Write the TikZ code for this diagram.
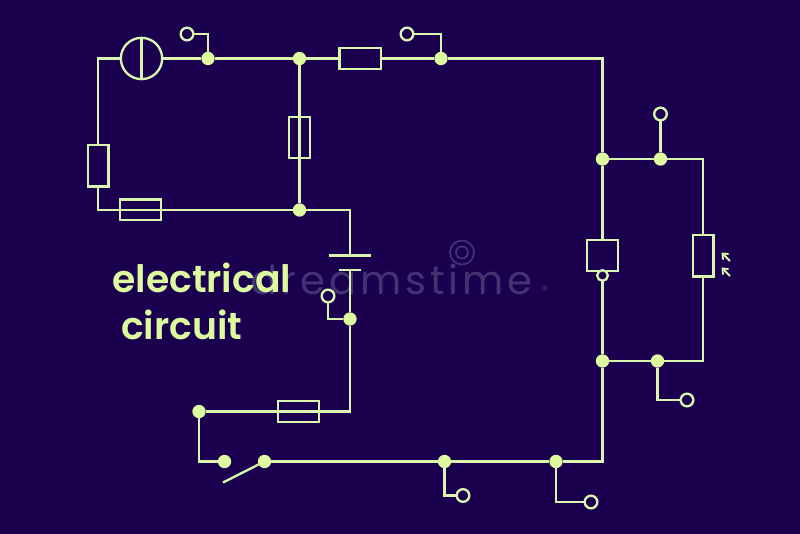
\documentclass[tikz,border=0pt]{standalone}
\usepackage{fontspec}
\setmainfont{Poppins}
\newfontfamily\titlefont{Poppins SemiBold}
\newfontfamily\markfont{Poppins}
\usetikzlibrary{arrows.meta}
\definecolor{bgc}{HTML}{1A004F}
\definecolor{wirec}{HTML}{DCF5AE}
\definecolor{dotc}{HTML}{DDFA9E}
\definecolor{markc}{HTML}{443372}
\tikzset{
  wire/.style={draw=wirec,line width=1.75pt,line join=miter},
  junction/.style={circle,fill=dotc,minimum size=10pt,inner sep=0pt,outer sep=0pt},
  terminal/.style={circle,draw=wirec,line width=1.75pt,fill=bgc,minimum size=9.5pt,inner sep=0pt,outer sep=0pt},
  resh/.style={rectangle,draw=wirec,line width=1.75pt,fill=bgc,minimum width=31pt,minimum height=15.5pt,inner sep=0pt,outer sep=0pt},
  resv/.style={rectangle,draw=wirec,line width=1.75pt,fill=bgc,minimum width=15.5pt,minimum height=31pt,inner sep=0pt,outer sep=0pt},
  fuseh/.style={rectangle,draw=wirec,line width=1.75pt,minimum width=31pt,minimum height=15.5pt,inner sep=0pt,outer sep=0pt},
  fusev/.style={rectangle,draw=wirec,line width=1.75pt,minimum width=15.5pt,minimum height=31pt,inner sep=0pt,outer sep=0pt},
  title/.style={text=dotc,font=\titlefont\fontsize{28.3pt}{30pt}\selectfont,inner sep=0pt,anchor=base west},
  photo/.style={wire,-{Straight Barb[length=3.5pt,width=6pt]},line width=1.4pt},
  markring/.style={circle,draw=markc,line width=1.3pt,inner sep=0pt}
}
\begin{document}
\begin{tikzpicture}[x=0.75pt,y=-0.75pt]
\useasboundingbox (0,0) rectangle (800,534);
\fill[bgc] (0,0) rectangle (800,534);
% watermark
\node[text=markc,font=\markfont\fontsize{30pt}{32pt}\selectfont\addfontfeature{LetterSpace=10},inner sep=0pt,anchor=base west] (mark) at (250,295) {dreamstime};
\node[markring,minimum size=18pt] (markdot) at (462,252.5) {};
\node[markring,minimum size=9pt] (markdotb) at (462,252.5) {};
\node[text=markc,font=\markfont\fontsize{9pt}{10pt}\selectfont,inner sep=0pt] (markreg) at (545,290) {®};
% corners
\coordinate (c1) at (98,58.5);
\coordinate (c2) at (98,210);
\coordinate (c3) at (208,34);
\coordinate (c4) at (441,34);
\coordinate (c5) at (602.5,58.5);
\coordinate (c6) at (703,159);
\coordinate (c7) at (703,361);
\coordinate (c8) at (350,210);
\coordinate (c10) at (350,411.5);
\coordinate (c11) at (199,461.5);
\coordinate (c12) at (602.5,461.5);
\coordinate (c13) at (657.5,400);
\coordinate (c14) at (444.5,495.5);
\coordinate (c15) at (556,502);
\coordinate (blade) at (223,482.5);
% components
\node[circle,draw=wirec,line width=1.75pt,minimum size=31pt,inner sep=0pt,outer sep=0pt] (src) at (141.5,58.5) {};
\node[resv] (r1) at (98,166) {};
\node[fuseh] (f1) at (140.5,210) {};
\node[fusev] (f2) at (299.5,137.5) {};
\node[resh] (r2) at (360,58.5) {};
\node[fuseh] (f3) at (298.5,411.5) {};
\node[resv] (r3) at (703,256) {};
\node[rectangle,draw=wirec,line width=1.75pt,fill=bgc,minimum width=23.5pt,minimum height=23.5pt,inner sep=0pt,outer sep=0pt] (sq) at (602.5,255.5) {};
\node[terminal,minimum size=8pt] (sqt) at (602.5,275.5) {};
\node[junction] (j1) at (208,58.5) {};
\node[junction] (j2) at (299.5,58.5) {};
\node[junction] (j3) at (441,58.5) {};
\node[junction] (j4) at (602.5,159) {};
\node[junction] (j5) at (660.5,159) {};
\node[junction] (j6) at (299.5,210) {};
\node[junction] (j7) at (350,319) {};
\node[junction] (j8) at (602.5,361) {};
\node[junction] (j9) at (657.5,361) {};
\node[junction] (j10) at (199,411.5) {};
\node[junction] (j11) at (224.5,461.5) {};
\node[junction] (j12) at (264.5,461.5) {};
\node[junction] (j13) at (444.5,461.5) {};
\node[junction] (j14) at (556,461.5) {};
\node[terminal] (t1) at (187,34) {};
\node[terminal] (t2) at (407,34) {};
\node[terminal] (t3) at (660.5,114) {};
\node[terminal] (t4) at (328,296) {};
\node[terminal] (t5) at (687,400) {};
\node[terminal] (t6) at (463,495.5) {};
\node[terminal] (t7) at (591,502) {};
\node[inner sep=0pt,outer sep=0pt,minimum width=31.5pt,minimum height=0pt] (b1) at (350,255.5) {};
\node[inner sep=0pt,outer sep=0pt,minimum width=16pt,minimum height=0pt] (b2) at (350,270) {};
% symbol details
\draw[wire] (src.north) -- (src.south);
\draw[wire] (b1.west) -- (b1.east);
\draw[wire] (b2.west) -- (b2.east);
% connectors
\draw[wire] (src.west) -- (c1) -- (r1.north);
\draw[wire] (r1.south) -- (c2) -- (f1.west);
\draw[wire] (f1.west) -- (f1.east);
\draw[wire] (f1.east) -- (j6);
\draw[wire] (src.east) -- (j1);
\draw[wire] (j1) -- (j2);
\draw[wire] (j2) -- (r2.west);
\draw[wire] (r2.east) -- (j3);
\draw[wire] (t1) -- (c3) -- (j1);
\draw[wire] (t2) -- (c4) -- (j3);
\draw[wire] (j2) -- (f2.north);
\draw[wire] (f2.north) -- (f2.south);
\draw[wire] (f2.south) -- (j6);
\draw[wire] (j3) -- (c5) -- (j4);
\draw[wire] (j6) -- (c8) -- (b1.center);
\draw[wire] (b2.center) -- (j7);
\draw[wire] (t4) |- (j7);
\draw[wire] (j7) -- (c10) -- (f3.east);
\draw[wire] (f3.east) -- (f3.west);
\draw[wire] (f3.west) -- (j10);
\draw[wire] (j10) -- (c11) -- (j11);
\draw[wire] (j12) -- (blade);
\draw[wire] (j12) -- (j13);
\draw[wire] (j13) -- (j14);
\draw[wire] (j14) -- (c12) -- (j8);
\draw[wire] (j4) -- (j5);
\draw[wire] (j5) -- (t3);
\draw[wire] (j5) -- (c6) -- (r3.north);
\draw[wire] (r3.south) -- (c7) -- (j9);
\draw[wire] (j9) -- (j8);
\draw[wire] (j4) -- (sq.north);
\draw[wire] (sqt) -- (j8);
\draw[wire] (j9) -- (c13) -- (t5);
\draw[wire] (j13) -- (c14) -- (t6);
\draw[wire] (j14) -- (c15) -- (t7);
% light arrows
\coordinate (p1s) at (730,261);
\coordinate (p1e) at (721.5,252.5);
\coordinate (p2s) at (730,276);
\coordinate (p2e) at (721.5,267.5);
\draw[photo] (p1s) -- (p1e);
\draw[photo] (p2s) -- (p2e);
% title
\node[title] (tt1) at (112,293) {electrical};
\node[title] (tt2) at (121,340) {circuit};
\end{tikzpicture}
\end{document}
